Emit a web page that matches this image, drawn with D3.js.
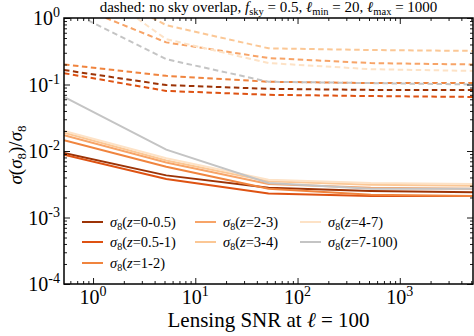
<!DOCTYPE html>
<html>
<head>
<meta charset="utf-8">
<script src="https://cdnjs.cloudflare.com/ajax/libs/d3/7.8.5/d3.min.js"></script>
<style>
  html, body { margin: 0; padding: 0; background: #fff; }
  svg { display: block; font-family: "Liberation Serif", "DejaVu Serif", serif; }
</style>
</head>
<body>
<svg id="chart" width="474" height="336"></svg>
<script>
// lensing SNR at l = 100 (x positions of every curve)
const snr = [0.52, 5.2, 52, 520, 5200];

const zBins = ["0-0.5", "0.5-1", "1-2", "2-3", "3-4", "4-7", "7-100"];

// sigma(sigma8)/sigma8, full sky overlap (solid)
const overlap_z0 = [0.0093, 0.0043, 0.0028, 0.0025, 0.0024];
const overlap_z1 = [0.0088, 0.0038, 0.0023, 0.0021, 0.0021];
const overlap_z2 = [0.0145, 0.0058, 0.0027, 0.0022, 0.0021];
const overlap_z3 = [0.0172, 0.0067, 0.0032, 0.0028, 0.0027];
const overlap_z4 = [0.0188, 0.0072, 0.0035, 0.0031, 0.0030];
const overlap_z5 = [0.0200, 0.0078, 0.0037, 0.0033, 0.0032];
const overlap_z6 = [0.065, 0.0105, 0.0033, 0.0027, 0.0027];

// no sky overlap (dashed)
const noOverlap_z0 = [0.165, 0.098, 0.086, 0.083, 0.083];
const noOverlap_z1 = [0.148, 0.080, 0.070, 0.067, 0.065];
const noOverlap_z2 = [0.20, 0.135, 0.11, 0.105, 0.105];
const noOverlap_z3 = [1.8, 0.43, 0.25, 0.21, 0.20];
const noOverlap_z4 = [5.0, 0.78, 0.35, 0.33, 0.32];
const noOverlap_z5 = [6.0, 0.48, 0.21, 0.17, 0.16];
const noOverlap_z6 = [1.4, 0.24, 0.11, 0.105, 0.10];

const overlap = [overlap_z0, overlap_z1, overlap_z2, overlap_z3, overlap_z4, overlap_z5, overlap_z6];
const noOverlap = [noOverlap_z0, noOverlap_z1, noOverlap_z2, noOverlap_z3, noOverlap_z4, noOverlap_z5, noOverlap_z6];

const xDecades = [0, 1, 2, 3];
const yDecades = [0, -1, -2, -3, -4];

const colors = ["#9c3306", "#de5212", "#f0843e", "#f7a468", "#fbc795", "#fde2c6", "#c4c4c4"];

const margin = { top: 18, right: 1, bottom: 52, left: 64 };
const W = 474, H = 336;
const width = W - margin.left - margin.right;
const height = H - margin.top - margin.bottom;

const svg = d3.select("#chart");
const g = svg.append("g").attr("transform", `translate(${margin.left},${margin.top})`);

const x = d3.scaleLog().domain([snr[0], snr[snr.length - 1]]).range([0, width]);
const y = d3.scaleLog().domain([1e-4, 1]).range([height, 0]);

g.append("clipPath").attr("id", "plot-clip")
  .append("rect").attr("width", width).attr("height", height);

const line = d3.line()
  .x((d, i) => x(snr[i]))
  .y(d => y(d));

const curves = g.append("g").attr("clip-path", "url(#plot-clip)");

// solid curves first, dashed on top
overlap.forEach((vals, i) => {
  curves.append("path")
    .attr("d", line(vals))
    .attr("fill", "none")
    .attr("stroke", colors[i])
    .attr("stroke-width", 2);
});
noOverlap.forEach((vals, i) => {
  curves.append("path")
    .attr("d", line(vals))
    .attr("fill", "none")
    .attr("stroke", colors[i])
    .attr("stroke-width", 2)
    .attr("stroke-dasharray", "5.5,3.5");
});

// minor tick positions for a log axis
function minors(domain) {
  const out = [];
  const lo = Math.floor(Math.log10(domain[0])), hi = Math.ceil(Math.log10(domain[1]));
  for (let e = lo; e <= hi; e++) {
    for (let m = 2; m <= 9; m++) {
      const v = m * Math.pow(10, e);
      if (v >= domain[0] && v <= domain[1]) out.push(v);
    }
  }
  return out;
}

const majorX = xDecades.map(e => Math.pow(10, e));
const majorY = yDecades.map(e => Math.pow(10, e));

// inward ticks on all four sides
function tickAxis(axisFn, scale, vals, size, transform) {
  g.append("g")
    .attr("transform", transform)
    .call(axisFn(scale).tickValues(vals).tickSize(-size).tickFormat(""))
    .call(s => s.select(".domain").remove())
    .selectAll(".tick line").attr("stroke", "#000").attr("stroke-width", 0.9);
}
tickAxis(d3.axisBottom, x, majorX, 6, `translate(0,${height})`);
tickAxis(d3.axisBottom, x, minors(x.domain()), 3, `translate(0,${height})`);
tickAxis(d3.axisTop, x, majorX, 6, "translate(0,0)");
tickAxis(d3.axisTop, x, minors(x.domain()), 3, "translate(0,0)");
tickAxis(d3.axisLeft, y, majorY, 6, "translate(0,0)");
tickAxis(d3.axisLeft, y, minors(y.domain()), 3, "translate(0,0)");
tickAxis(d3.axisRight, y, majorY, 6, `translate(${width},0)`);
tickAxis(d3.axisRight, y, minors(y.domain()), 3, `translate(${width},0)`);

g.append("rect")
  .attr("width", width).attr("height", height)
  .attr("fill", "none").attr("stroke", "#000").attr("stroke-width", 1.5);

// power-of-ten tick labels
xDecades.forEach(e => {
  const t = g.append("text")
    .attr("x", x(Math.pow(10, e)))
    .attr("y", height + 20)
    .attr("text-anchor", "middle")
    .attr("font-size", 20);
  t.append("tspan").text("10");
  t.append("tspan").attr("dy", -8).attr("font-size", 14).text(e);
});
yDecades.forEach(e => {
  const t = g.append("text")
    .attr("x", -4)
    .attr("y", y(Math.pow(10, e)) + 7)
    .attr("text-anchor", "end")
    .attr("font-size", 20);
  t.append("tspan").text("10");
  t.append("tspan").attr("dy", -8).attr("font-size", 14).text(e === 0 ? "0" : "-" + (-e));
});

// axis labels
svg.append("text")
  .attr("x", margin.left + width / 2)
  .attr("y", 327)
  .attr("text-anchor", "middle")
  .attr("font-size", 21)
  .html('Lensing SNR at <tspan font-style="italic">ℓ</tspan> = 100');

const yl = svg.append("text")
  .attr("transform", `translate(22,${margin.top + height / 2 + 4}) rotate(-90)`)
  .attr("text-anchor", "middle")
  .attr("font-size", 19);
yl.append("tspan").attr("font-style", "italic").text("σ");
yl.append("tspan").text("(");
yl.append("tspan").attr("font-style", "italic").text("σ");
yl.append("tspan").attr("font-size", 13).attr("dy", 4).text("8");
yl.append("tspan").attr("dy", -4).text(")/");
yl.append("tspan").attr("font-style", "italic").text("σ");
yl.append("tspan").attr("font-size", 13).attr("dy", 4).text("8");

// title
const title = svg.append("text")
  .attr("x", margin.left + width / 2)
  .attr("y", 12)
  .attr("text-anchor", "middle")
  .attr("font-size", 15);
title.append("tspan").text("dashed: no sky overlap, ");
title.append("tspan").attr("font-style", "italic").text("f");
title.append("tspan").attr("font-size", 10.5).attr("dy", 3).text("sky");
title.append("tspan").attr("dy", -3).text(" = 0.5, ");
title.append("tspan").attr("font-style", "italic").text("ℓ");
title.append("tspan").attr("font-size", 10.5).attr("dy", 3).text("min");
title.append("tspan").attr("dy", -3).text(" = 20, ");
title.append("tspan").attr("font-style", "italic").text("ℓ");
title.append("tspan").attr("font-size", 10.5).attr("dy", 3).text("max");
title.append("tspan").attr("dy", -3).text(" = 1000");

// legend, three columns
const legendCols = [[0, 1, 2], [3, 4], [5, 6]];
const colX = [18, 131, 236];
const rowY = [204, 224, 245];
legendCols.forEach((col, c) => {
  col.forEach((k, r) => {
    const lg = g.append("g").attr("transform", `translate(${colX[c]},${rowY[r]})`);
    lg.append("line")
      .attr("x1", 0).attr("x2", 21)
      .attr("stroke", colors[k]).attr("stroke-width", 2);
    const t = lg.append("text").attr("x", 28).attr("y", 5).attr("font-size", 14.5);
    t.append("tspan").attr("font-style", "italic").text("σ");
    t.append("tspan").attr("font-size", 10).attr("dy", 3).text("8");
    t.append("tspan").attr("dy", -3).text("(");
    t.append("tspan").attr("font-style", "italic").text("z");
    t.append("tspan").text("=" + zBins[k] + ")");
  });
});
</script>
</body>
</html>
